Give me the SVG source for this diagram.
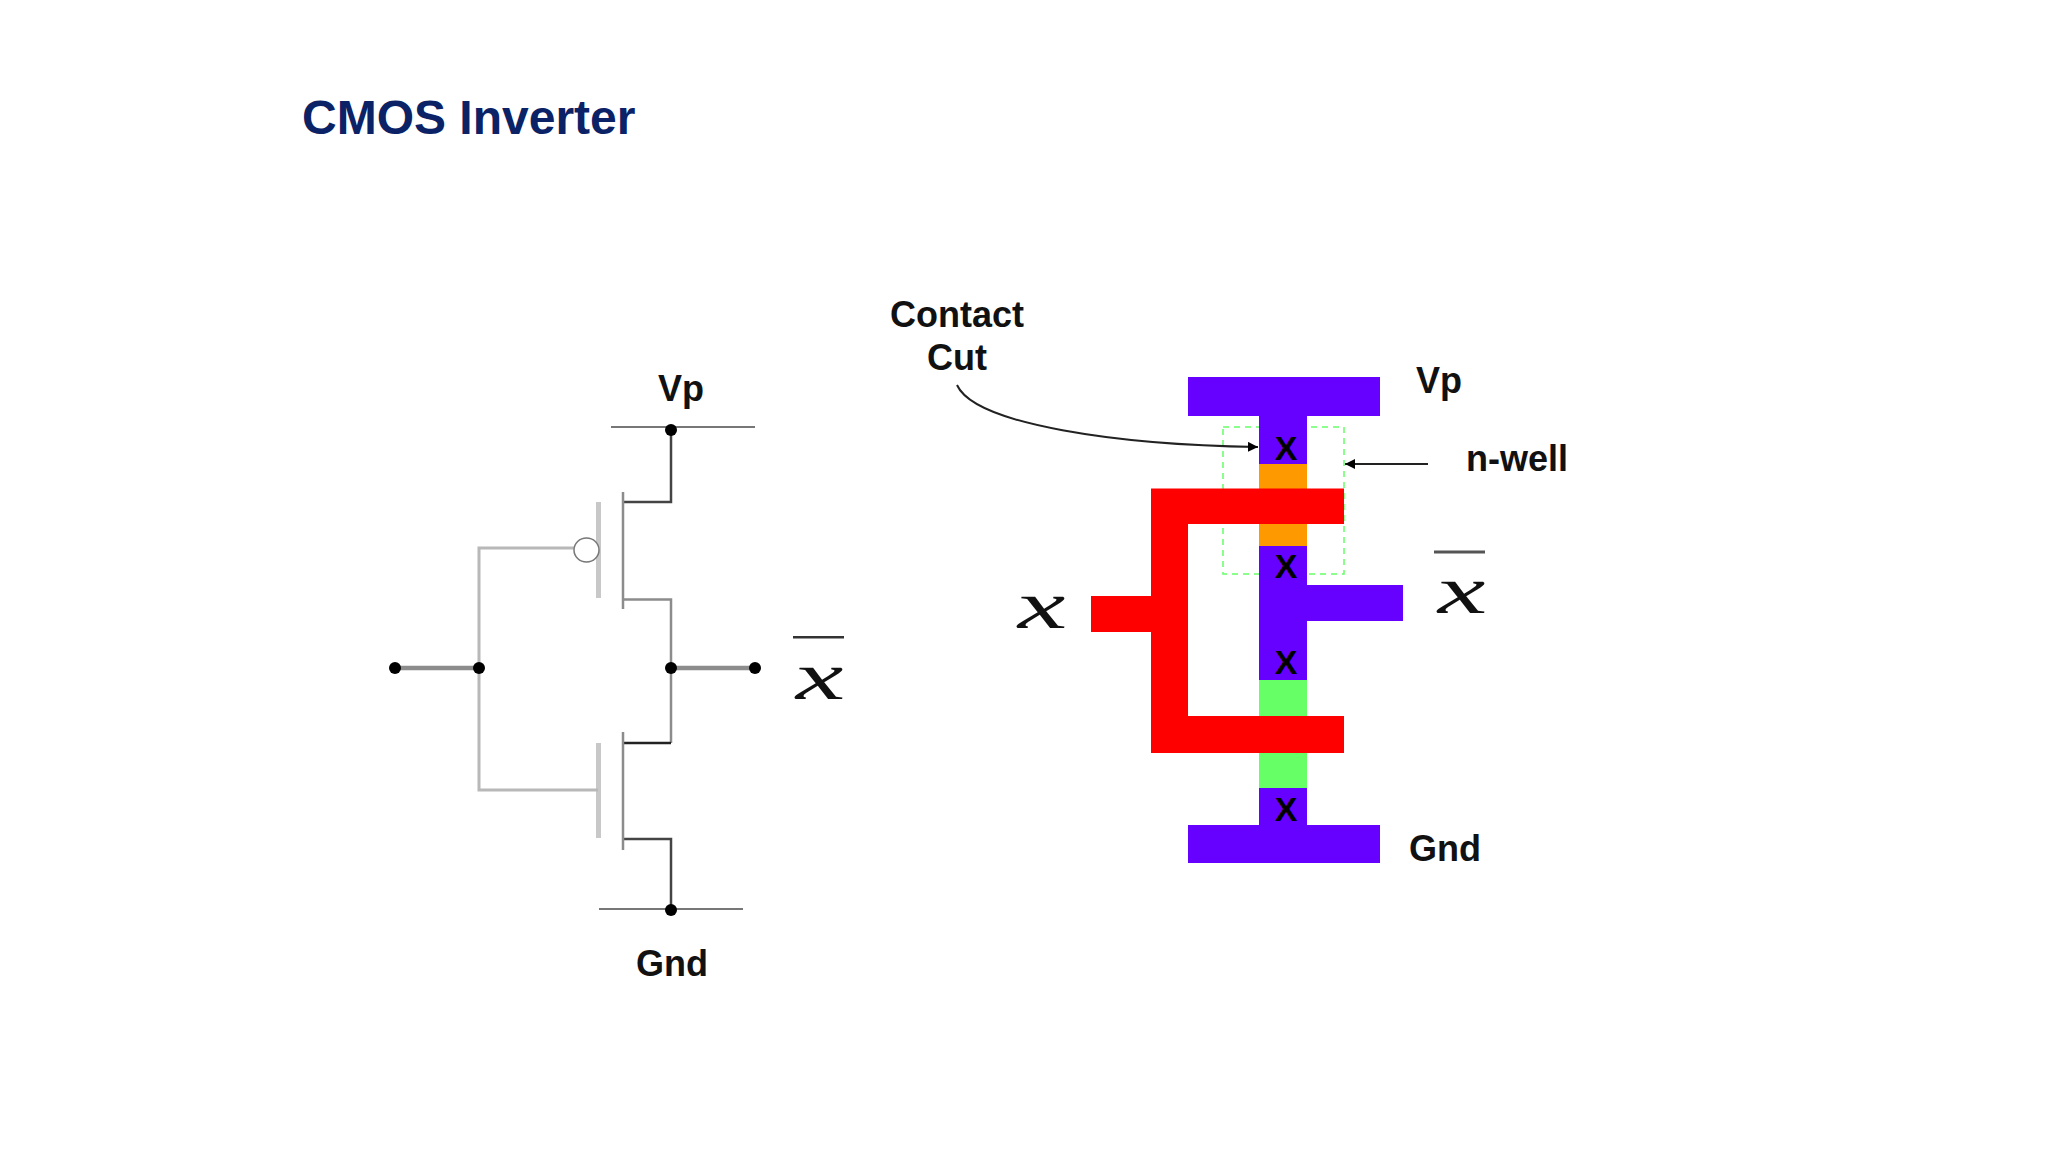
<svg xmlns="http://www.w3.org/2000/svg" width="2048" height="1152" viewBox="0 0 2048 1152">
<defs>
<style>
text{font-family:"Liberation Sans",Arial,sans-serif;font-weight:700;fill:#111}
.lbl{font-size:36px}
.cut{font-size:34px;text-anchor:middle;fill:#000}
.var{font-family:"Liberation Serif","Times New Roman",serif;font-style:italic;font-weight:400;font-size:68px;fill:#111}
.rail{stroke:#777;stroke-width:2;fill:none}
.wire{stroke:#444;stroke-width:2.5;fill:none}
.wire2{stroke:#8c8c8c;stroke-width:2.5;fill:none}
.in{stroke:#b8b8b8;stroke-width:3;fill:none}
.gate{stroke:#c8c8c8;stroke-width:5;fill:none}
.io{stroke:#8c8c8c;stroke-width:4.5;fill:none}
.dot{fill:#000}
.m{fill:#6600ff}.r{fill:#ff0000}.o{fill:#ff9900}.g{fill:#66ff66}
</style>
<marker id="ah" viewBox="0 0 10 10" refX="10" refY="5" markerWidth="10" markerHeight="10" markerUnits="userSpaceOnUse" orient="auto"><path d="M0 0L10 5L0 10z" fill="#000"/></marker>
</defs>
<rect width="2048" height="1152" fill="#fff"/>
<text id="title" x="302" y="134" style="font-size:48px;fill:#0b2366">CMOS Inverter</text>

<g id="schematic-connectors">
<path class="rail" d="M611 427H755M599 909H743"/>
<path class="wire" d="M671 430V502H623"/>
<path class="wire2" d="M623 599.500H671V743"/>
<path class="wire" d="M623 743H671" style="stroke:#222"/>
<path class="wire" d="M623 839H671V910"/>
<path class="wire2" d="M623 492V609M623 732V850"/>
<path class="gate" d="M598.500 502V598M598.500 743V838"/>
<path class="in" d="M574 548H479V790H598"/>
<path class="io" d="M395 668H479M671 668H755"/>
<ellipse cx="586.500" cy="550" rx="12.500" ry="12" fill="#fff" stroke="#777" stroke-width="1.500"/>
</g>
<g id="schematic-nodes">
<circle class="dot" cx="671" cy="430" r="6"/>
<circle class="dot" cx="671" cy="910" r="6"/>
<circle class="dot" cx="395" cy="668" r="6"/>
<circle class="dot" cx="479" cy="668" r="6"/>
<circle class="dot" cx="671" cy="668" r="6"/>
<circle class="dot" cx="755" cy="668" r="6"/>
</g>
<g id="schematic-labels">
<text class="lbl" x="658" y="401">Vp</text>
<text class="lbl" x="636" y="976">Gnd</text>
<rect x="793" y="636" width="51" height="2.500" fill="#333"/>
<text class="var" transform="translate(796 699) scale(1.65 1) skewX(3)">x</text>
</g>

<g id="layout">
<rect id="n-well" x="1223" y="427" width="121" height="147" fill="none" stroke="#66ff66" stroke-width="1.500" stroke-dasharray="6 5"/>
<rect class="m" x="1188" y="377" width="192" height="39"/>
<rect class="m" x="1259" y="416" width="48" height="48"/>
<rect class="o" x="1259" y="464" width="48" height="82"/>
<rect class="m" x="1259" y="546" width="48" height="134"/>
<rect class="m" x="1307" y="585" width="96" height="36"/>
<rect class="g" x="1259" y="680" width="48" height="108"/>
<rect class="m" x="1259" y="788" width="48" height="37"/>
<rect class="m" x="1188" y="825" width="192" height="38"/>
<path class="r" d="M1151 488.500H1344V524H1188V716H1344V753H1151V632H1091V596H1151Z"/>
<text class="cut" x="1286" y="460">X</text>
<text class="cut" x="1286" y="578">X</text>
<text class="cut" x="1286" y="674">X</text>
<text class="cut" x="1286" y="821">X</text>
</g>
<g id="layout-connectors">
<path d="M957 385C975 425 1120 445 1258 447" fill="none" stroke="#222" stroke-width="2" marker-end="url(#ah)"/>
<path d="M1428 464H1345" fill="none" stroke="#222" stroke-width="2" marker-end="url(#ah)"/>
</g>
<g id="layout-labels">
<text class="lbl" x="957" y="327" text-anchor="middle">Contact</text>
<text class="lbl" x="957" y="370" text-anchor="middle">Cut</text>
<text class="lbl" x="1416" y="393">Vp</text>
<text class="lbl" x="1466" y="471">n-well</text>
<text class="lbl" x="1409" y="861">Gnd</text>
<rect x="1434" y="550.500" width="51" height="3" fill="#555"/>
<text class="var" transform="translate(1438 613) scale(1.65 1) skewX(3)">x</text>
<text class="var" transform="translate(1018 628) scale(1.65 1) skewX(3)">x</text>
</g>
</svg>
